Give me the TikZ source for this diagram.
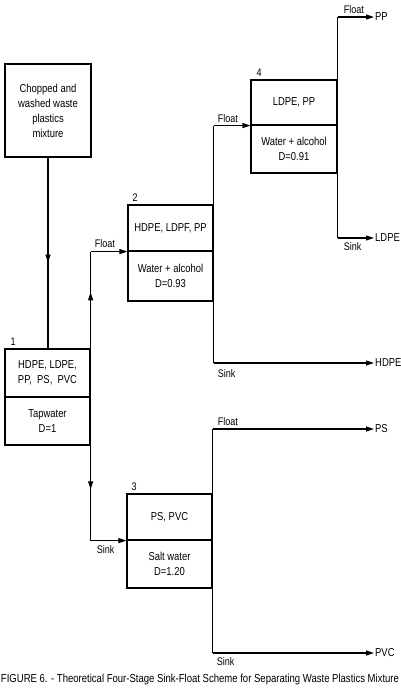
\documentclass[tikz,border=0pt]{standalone}
\usepackage{fontspec}
\setmainfont{Liberation Sans}[FakeStretch=0.82]
\usetikzlibrary{arrows.meta,decorations.markings}
\tikzset{
  every node/.style={font=\fontsize{11.5}{15}\selectfont},
  boxpart/.style={draw, line width=1.2pt, inner sep=0pt, align=center, minimum width=85pt},
  lbl/.style={inner sep=1pt, font=\fontsize{11}{12}\selectfont},
  wire/.style={line width=1.1pt},
  endarr/.style={wire, -{Triangle[length=8pt,width=5pt]}},
  midarr/.style={wire, postaction={decorate}, decoration={markings, mark=at position #1 with {\arrow{Triangle[length=8pt,width=5pt]}}}},
  outlbl/.style={anchor=west, inner sep=1pt}
}
\begin{document}
\begin{tikzpicture}[x=1pt,y=-1pt]
\useasboundingbox (0,0) rectangle (400,700);
% boxes
\node[boxpart, minimum width=86pt, minimum height=93pt] (src) at (48,110.5) {Chopped and\\washed waste\\plastics\\mixture};
\node[boxpart, minimum height=48pt] (b1top) at (47.5,373) {HDPE, LDPE,\\PP, \ PS, \ PVC};
\node[boxpart, minimum height=48pt] (b1bot) at (47.5,421) {Tapwater\\D=1};
\node[boxpart, minimum height=46pt] (b2top) at (170.5,228) {HDPE, LDPF, PP};
\node[boxpart, minimum height=50pt] (b2bot) at (170.5,276) {Water + alcohol\\D=0.93};
\node[boxpart, minimum width=86pt, minimum height=45pt] (b4top) at (294,102.5) {LDPE, PP};
\node[boxpart, minimum width=86pt, minimum height=48pt] (b4bot) at (294,149) {Water + alcohol\\D=0.91};
\node[boxpart, minimum height=46pt] (b3top) at (169.5,517) {PS, PVC};
\node[boxpart, minimum height=48pt] (b3bot) at (169.5,564) {Salt water\\D=1.20};
% stage numbers
\node[lbl, anchor=south west] (n1) at ([xshift=5pt,yshift=2pt]b1top.north west) {1};
\node[lbl, anchor=south west] (n2) at ([xshift=4pt,yshift=2pt]b2top.north west) {2};
\node[lbl, anchor=south west] (n3) at ([xshift=4pt,yshift=2pt]b3top.north west) {3};
\node[lbl, anchor=south west] (n4) at ([xshift=5pt,yshift=2pt]b4top.north west) {4};
% outputs
\node[outlbl] (pp) at (374,17) {PP};
\node[outlbl] (ldpe) at (374,238) {LDPE};
\node[outlbl] (hdpe) at (374,363) {HDPE};
\node[outlbl] (ps) at (374,429) {PS};
\node[outlbl] (pvc) at (374,653) {PVC};
% corners
\coordinate (c1f) at (b1top.north east |- b2top.south west);
\coordinate (c1s) at (b1bot.south east |- b3top.south west);
\coordinate (c2f) at (b2top.north east |- b4top.south west);
\coordinate (c2s) at (b2bot.south east |- hdpe.west);
\coordinate (c4f) at (b4top.north east |- pp.west);
\coordinate (c4s) at (b4bot.south east |- ldpe.west);
\coordinate (c3f) at (b3top.north east |- ps.west);
\coordinate (c3s) at (b3bot.south east |- pvc.west);
% connectors
\draw[midarr=0.55] (src.south) -- (src.south |- b1top.north);
\draw[midarr=0.58] (b1top.north east) -- (c1f);
\draw[endarr] (c1f) -- (b2top.south west);
\draw[midarr=0.46] (b1bot.south east) -- (c1s);
\draw[endarr] (c1s) -- (b3top.south west);
\draw[wire] (b2top.north east) -- (c2f);
\draw[endarr] (c2f) -- (b4top.south west);
\draw[wire] (b2bot.south east) -- (c2s);
\draw[endarr] (c2s) -- (hdpe.west);
\draw[wire] (b4top.north east) -- (c4f);
\draw[endarr] (c4f) -- (pp.west);
\draw[wire] (b4bot.south east) -- (c4s);
\draw[endarr] (c4s) -- (ldpe.west);
\draw[wire] (b3top.north east) -- (c3f);
\draw[endarr] (c3f) -- (ps.west);
\draw[wire] (b3bot.south east) -- (c3s);
\draw[endarr] (c3s) -- (pvc.west);
% float / sink labels
\node[lbl, anchor=south west] (f1) at ([xshift=3pt,yshift=3pt]c1f) {Float};
\node[lbl, anchor=north west] (s1) at ([xshift=5pt,yshift=-4pt]c1s) {Sink};
\node[lbl, anchor=south west] (f2) at ([xshift=3pt,yshift=2pt]c2f) {Float};
\node[lbl, anchor=north west] (s2) at ([xshift=3pt,yshift=-5pt]c2s) {Sink};
\node[lbl, anchor=south west] (f4) at ([xshift=5pt,yshift=2pt]c4f) {Float};
\node[lbl, anchor=north west] (s4) at ([xshift=5pt,yshift=-3pt]c4s) {Sink};
\node[lbl, anchor=south west] (f3) at ([xshift=4pt,yshift=2pt]c3f) {Float};
\node[lbl, anchor=north west] (s3) at ([xshift=3pt,yshift=-3pt]c3s) {Sink};
% caption
\node[inner sep=0pt] (cap) at (200,679) {\resizebox{398pt}{!}{FIGURE 6. - Theoretical Four-Stage Sink-Float Scheme for Separating Waste Plastics Mixture}};
\end{tikzpicture}
\end{document}
